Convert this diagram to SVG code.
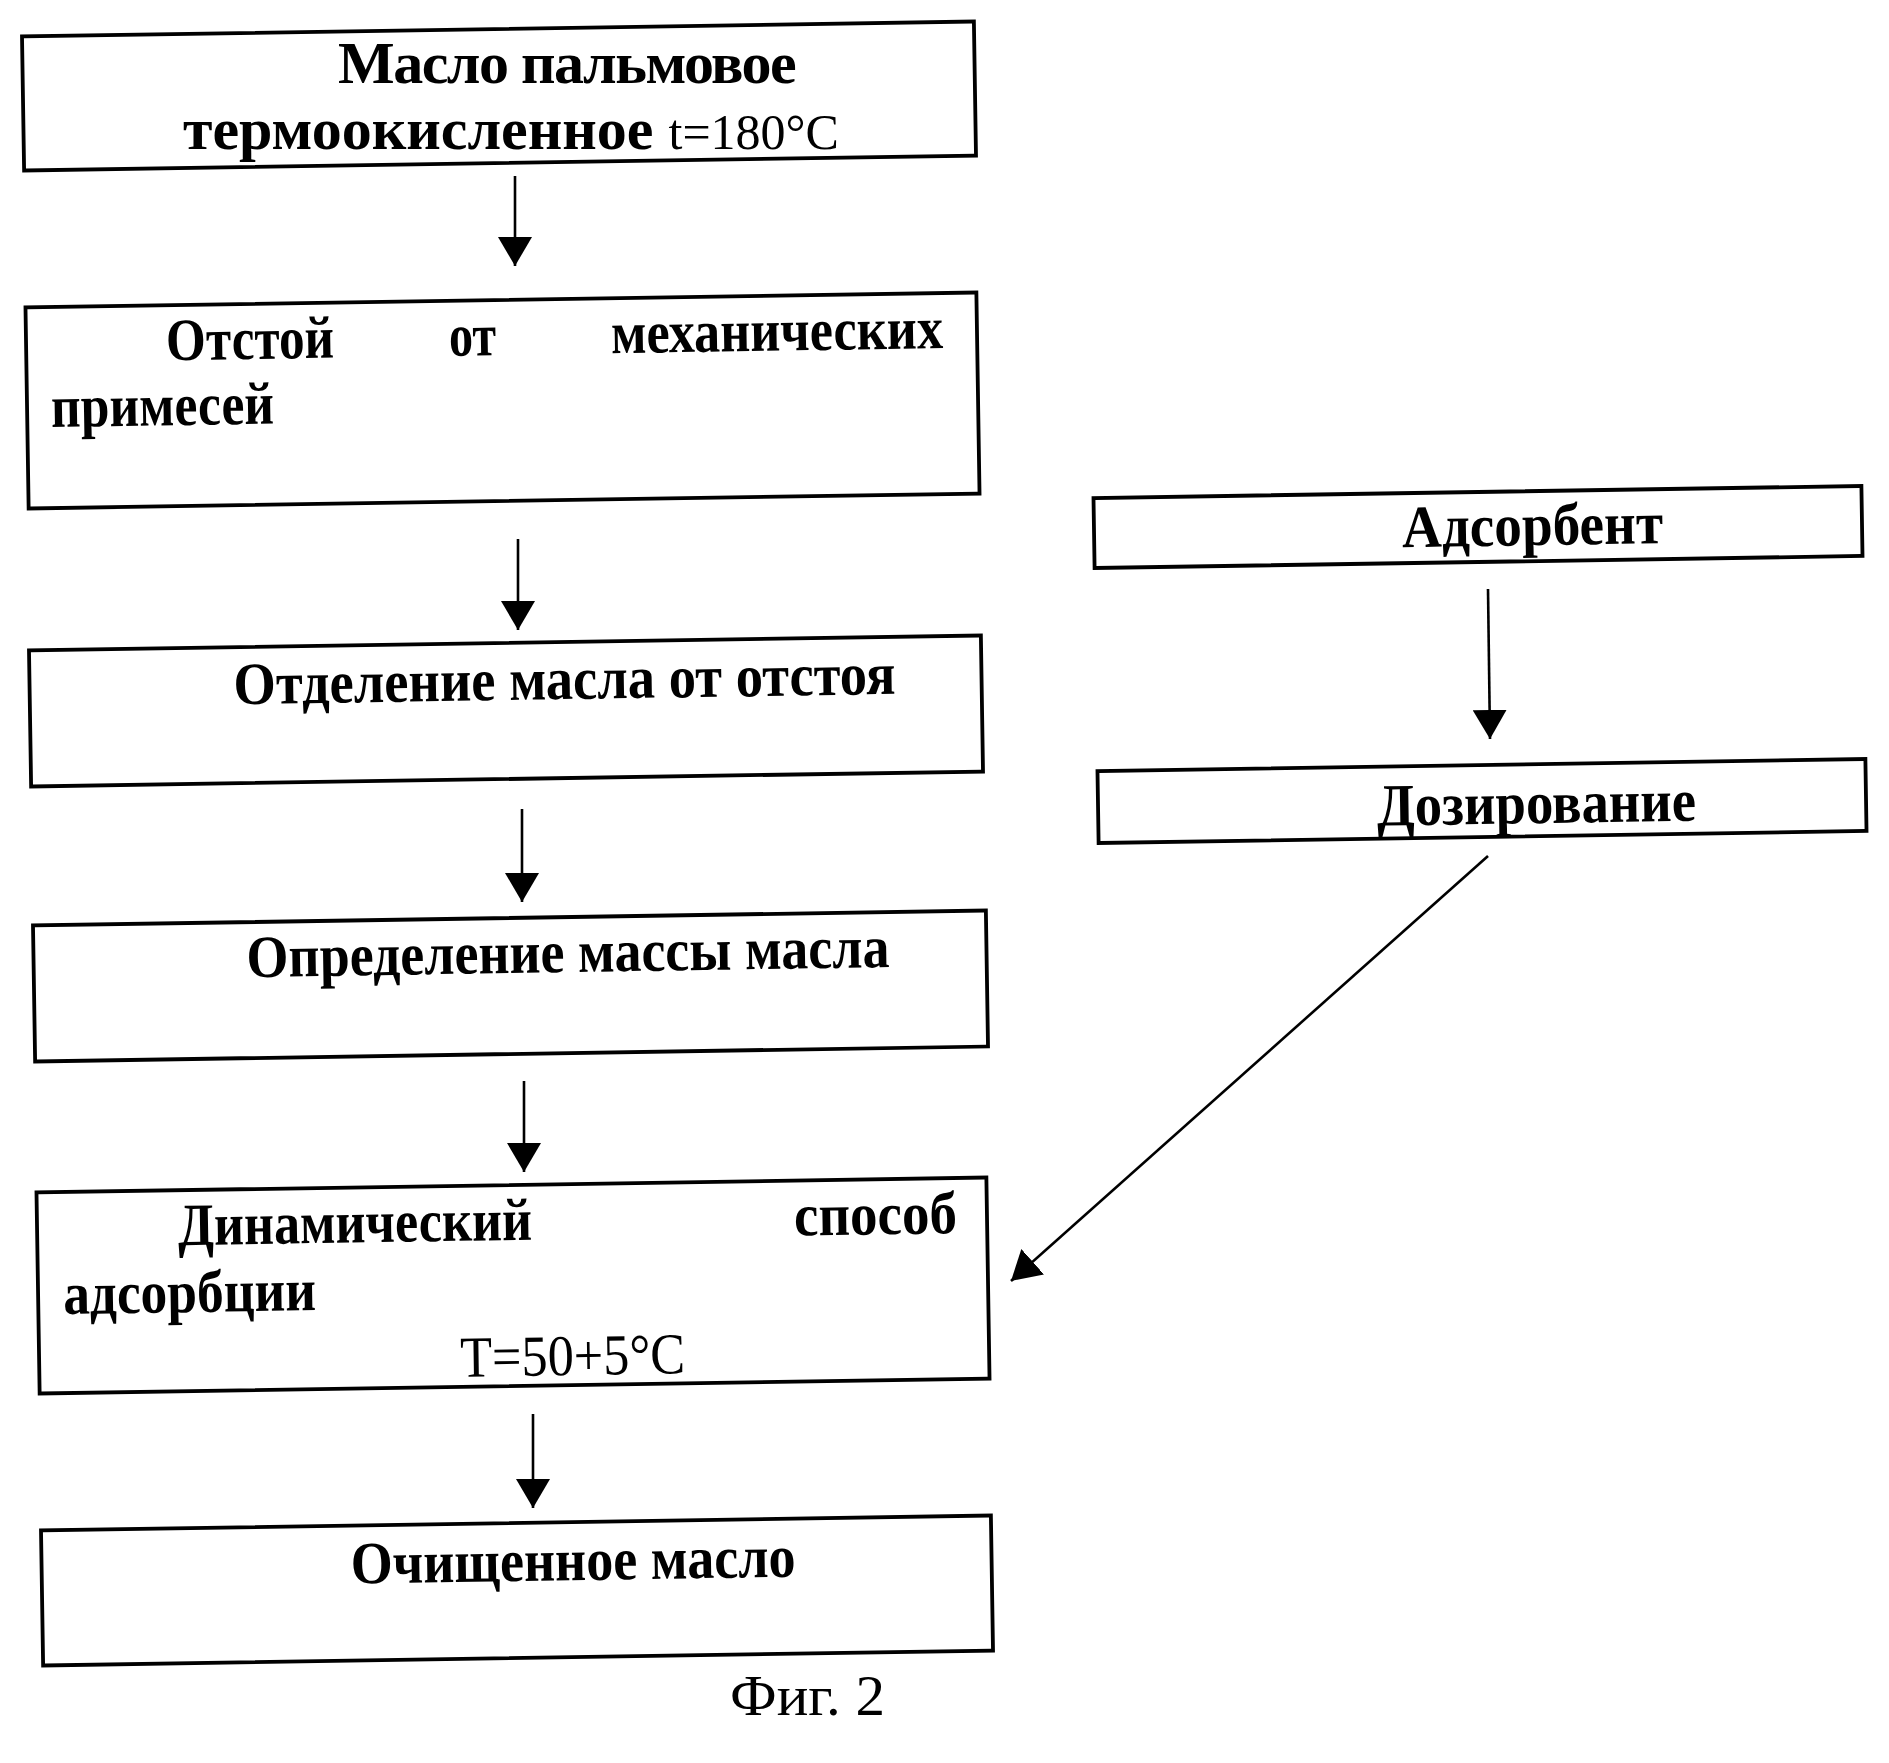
<svg xmlns="http://www.w3.org/2000/svg" width="1889" height="1763" viewBox="0 0 1889 1763">
<defs>
<style>
.box{fill:none;stroke:#000;stroke-width:3.8}
.t{font-family:"Liberation Serif","Times New Roman",serif;font-weight:bold;font-size:60px;fill:#000}
.n{font-family:"Liberation Serif","Times New Roman",serif;font-weight:normal;font-size:58px;fill:#000}
.c{stroke:#000;stroke-width:2.6;fill:none;marker-end:url(#ah)}
</style>
<marker id="ah" markerUnits="userSpaceOnUse" markerWidth="30" markerHeight="34" refX="29" refY="17" orient="auto" viewBox="0 0 30 34"><path d="M0,0 L29,17 L0,34 z" fill="#000"/></marker>
</defs>
<rect width="1889" height="1763" fill="#fff"/>
<g id="n1">
<rect class="box" x="23" y="29" width="952" height="134" transform="rotate(-0.9 499 96)"/>
<text class="t" font-size="48"><tspan x="338" y="83" letter-spacing="-1.5">Масло пальмовое</tspan><tspan x="183" y="149">термоокисленное <tspan font-weight="normal" font-size="50">t=180°C</tspan></tspan></text>
</g>
<g id="n2" transform="rotate(-0.9 502 400)">
<rect class="box" x="27" y="300" width="951" height="201"/>
<text class="t" x="167" y="355" textLength="168" lengthAdjust="spacingAndGlyphs">Отстой</text>
<text class="t" x="450" y="355" textLength="47" lengthAdjust="spacingAndGlyphs">от</text>
<text class="t" x="612" y="355" textLength="332" lengthAdjust="spacingAndGlyphs">механических</text>
<text class="t" x="51" y="420" textLength="223" lengthAdjust="spacingAndGlyphs">примесей</text>
</g>
<g id="n3" transform="rotate(-0.9 506 711)">
<rect class="box" x="30" y="643" width="952" height="136"/>
<text class="t" x="234" y="700" textLength="662" lengthAdjust="spacingAndGlyphs">Отделение масла от отстоя</text>
</g>
<g id="n4" transform="rotate(-0.9 510 986)">
<rect class="box" x="34" y="918" width="953" height="136"/>
<text class="t" x="247" y="973" textLength="643" lengthAdjust="spacingAndGlyphs">Определение массы масла</text>
</g>
<g id="n5" transform="rotate(-0.9 513 1285)">
<rect class="box" x="38" y="1185" width="950" height="201"/>
<text class="t" x="179" y="1240" textLength="354" lengthAdjust="spacingAndGlyphs">Динамический</text>
<text class="t" x="795" y="1240" textLength="163" lengthAdjust="spacingAndGlyphs">способ</text>
<text class="t" x="63" y="1307" textLength="253" lengthAdjust="spacingAndGlyphs">адсорбции</text>
<text class="n" x="459" y="1376" font-size="60" textLength="225" lengthAdjust="spacingAndGlyphs">T=50+5°C</text>
</g>
<g id="n6" transform="rotate(-0.9 517 1590)">
<rect class="box" x="42" y="1523" width="950" height="135"/>
<text class="t" x="351" y="1581" textLength="445" lengthAdjust="spacingAndGlyphs">Очищенное масло</text>
</g>
<g id="nA" transform="rotate(-0.9 1478 527)">
<rect class="box" x="1094" y="492" width="768" height="70"/>
<text class="t" x="1402" y="546" textLength="261" lengthAdjust="spacingAndGlyphs">Адсорбент</text>
</g>
<g id="nB" transform="rotate(-0.9 1482 801)">
<rect class="box" x="1098" y="765" width="768" height="72"/>
<text class="t" x="1377" y="824" textLength="319" lengthAdjust="spacingAndGlyphs">Дозирование</text>
</g>
<g id="caption">
<text class="n" x="730" y="1715" font-size="54" textLength="155" lengthAdjust="spacingAndGlyphs">Фиг. 2</text>
</g>
<g id="connectors">
<line class="c" x1="515" y1="176" x2="515" y2="266"/>
<line class="c" x1="518" y1="539" x2="518" y2="630"/>
<line class="c" x1="522" y1="809" x2="522" y2="902"/>
<line class="c" x1="524" y1="1081" x2="524" y2="1172"/>
<line class="c" x1="533" y1="1414" x2="533" y2="1508"/>
<line class="c" x1="1488" y1="589" x2="1490" y2="739"/>
<line class="c" x1="1488" y1="856" x2="1011" y2="1281"/>
</g>
</svg>
